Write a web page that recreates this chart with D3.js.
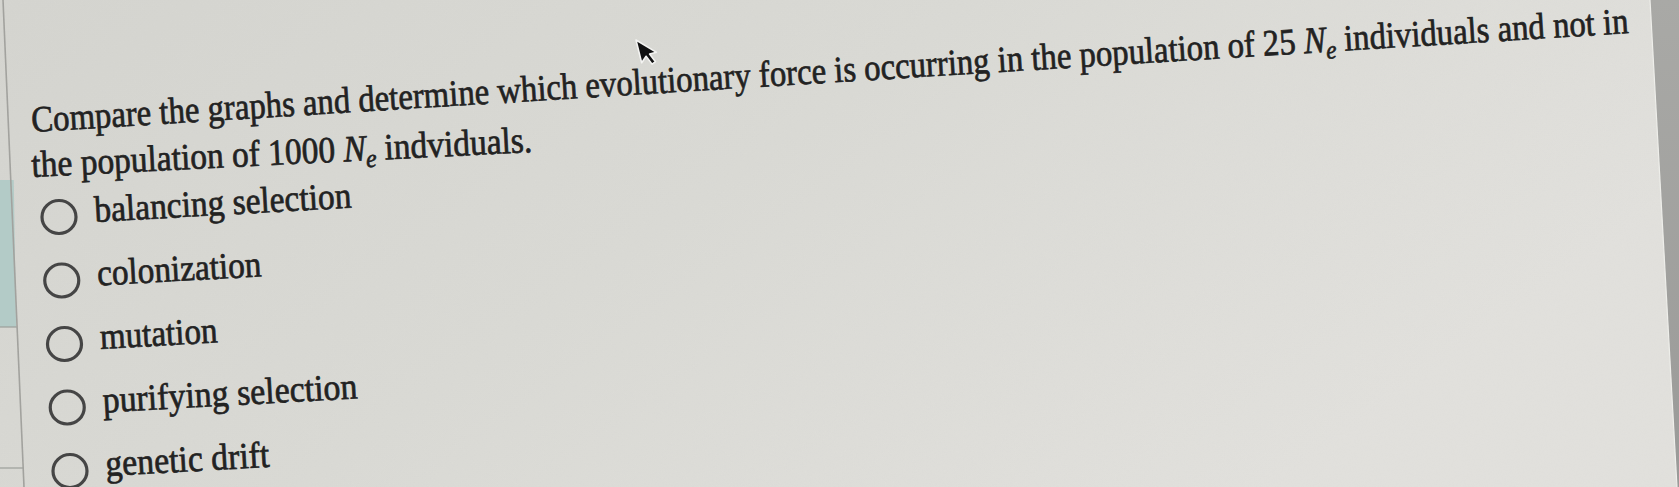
<!DOCTYPE html>
<html>
<head>
<meta charset="utf-8">
<script src="https://cdn.jsdelivr.net/npm/d3@7"></script>
<style>
  html, body { margin: 0; padding: 0; overflow: hidden; background: #dadad5; }
  svg { display: block; }
</style>
</head>
<body>
<div id="page"></div>
<script>
// texte de la question (N en italique, e en indice)
const line1 = [
  { text: "Compare the graphs and determine which evolutionary force is occurring in the population of 25 " },
  { text: "N", kind: "italic" },
  { text: "e", kind: "sub" },
  { text: " individuals and not in" }
];
const line2 = [
  { text: "the population of 1000 " },
  { text: "N", kind: "italic" },
  { text: "e", kind: "sub" },
  { text: " indviduals." }
];

// les choix de réponse
const options = [
  "balancing selection",
  "colonization",
  "mutation",
  "purifying selection",
  "genetic drift"
];

// dimensions
const width = 1679;
const height = 487;
const fontSize = 37;

// début / fin de la ligne de base de chaque ligne de la question (photo un peu penchée)
const lineStart = [[32, 132], [32, 177]];
const lineEnd = [[1630, 33], [533, 152]];

// bord droit du texte de chaque choix
const optionEndX = [352, 262, 218, 358, 270];
const optionSlope = -0.056;

// échelles pour placer les choix
const y = d3.scalePoint().domain(options).range([217, 471]);
const x = d3.scalePoint().domain(options).range([59, 70]);

const svg = d3.select("#page")
  .append("svg")
  .attr("width", width)
  .attr("height", height);

const defs = svg.append("defs");

// fond papier / écran
const grad = defs.append("linearGradient")
  .attr("id", "paper")
  .attr("x1", "0").attr("y1", "0")
  .attr("x2", "1").attr("y2", "0.4");
grad.append("stop").attr("offset", "0").attr("stop-color", "#d5d5d0");
grad.append("stop").attr("offset", "0.5").attr("stop-color", "#dadad5");
grad.append("stop").attr("offset", "1").attr("stop-color", "#e2e1dd");

const bezel = defs.append("linearGradient")
  .attr("id", "bezel")
  .attr("x1", "0").attr("y1", "0")
  .attr("x2", "0").attr("y2", "1");
bezel.append("stop").attr("offset", "0").attr("stop-color", "#a9a9a6");
bezel.append("stop").attr("offset", "1").attr("stop-color", "#9a9a98");

// grain de la photo
const noise = defs.append("filter").attr("id", "grain");
noise.append("feTurbulence")
  .attr("type", "fractalNoise")
  .attr("baseFrequency", "0.9")
  .attr("numOctaves", "2")
  .attr("seed", "3");
noise.append("feColorMatrix")
  .attr("type", "matrix")
  .attr("values", "0 0 0 0 0.5  0 0 0 0 0.5  0 0 0 0 0.5  0 0 0 0.5 0");

svg.append("rect")
  .attr("width", width)
  .attr("height", height)
  .attr("fill", "url(#paper)");

svg.append("rect")
  .attr("width", width)
  .attr("height", height)
  .attr("filter", "url(#grain)")
  .attr("opacity", 0.12);

// bord gauche : filet, bandeau bleu-vert et traits
const edgeX = (yy) => 3 + 21 * yy / height;

svg.append("path")
  .attr("d", `M0,180 L${edgeX(180) + 3},180 L${edgeX(327) - 1},327 L0,327 Z`)
  .attr("fill", "#b3cbc7");

svg.append("line")
  .attr("x1", 0).attr("y1", 327)
  .attr("x2", edgeX(327)).attr("y2", 327)
  .attr("stroke", "#9c9e9a").attr("stroke-width", 1.2);

svg.append("line")
  .attr("x1", 0).attr("y1", 468)
  .attr("x2", edgeX(468)).attr("y2", 468)
  .attr("stroke", "#9c9e9a").attr("stroke-width", 1.2);

svg.append("line")
  .attr("x1", edgeX(0)).attr("y1", 0)
  .attr("x2", edgeX(height)).attr("y2", height)
  .attr("stroke", "#a2a29e").attr("stroke-width", 1.6);

// bord droit de l'écran
svg.append("path")
  .attr("d", `M1650,0 L${width},0 L${width},${height} L1677,${height} Z`)
  .attr("fill", "url(#bezel)");

svg.append("line")
  .attr("x1", 1650).attr("y1", 0)
  .attr("x2", 1677).attr("y2", height)
  .attr("stroke", "#eeeeea").attr("stroke-width", 1.2);

// dessine un texte le long d'une ligne de base penchée
function drawText(parts, x0, y0, x1, y1) {
  const t = svg.append("text")
    .attr("font-family", "'Liberation Serif', 'DejaVu Serif', serif")
    .attr("font-size", fontSize)
    .attr("fill", "#222")
    .attr("stroke", "#222")
    .attr("stroke-width", 0.7);

  let shifted = false;
  parts.forEach((p) => {
    const ts = t.append("tspan").text(p.text);
    if (p.kind == "italic") {
      ts.attr("font-style", "italic");
    }
    if (p.kind == "sub") {
      ts.attr("font-style", "italic")
        .attr("font-size", fontSize * 0.7)
        .attr("dy", 7);
      shifted = true;
    } else if (shifted) {
      ts.attr("dy", -7);
      shifted = false;
    }
  });

  const w = t.node().getComputedTextLength();
  const len = Math.hypot(x1 - x0, y1 - y0);
  const ang = Math.atan2(y1 - y0, x1 - x0) * 180 / Math.PI;
  t.attr("transform", `translate(${x0},${y0}) rotate(${ang}) scale(${len / w},1)`);
  return t;
}

// la question
[line1, line2].forEach((parts, i) => {
  drawText(parts, lineStart[i][0], lineStart[i][1], lineEnd[i][0], lineEnd[i][1]);
});

// les choix : cercle + libellé
options.forEach((d, i) => {
  const cx = x(d);
  const cy = y(d);

  svg.append("ellipse")
    .attr("cx", cx)
    .attr("cy", cy)
    .attr("rx", 17)
    .attr("ry", 16.5)
    .attr("fill", "none")
    .attr("stroke", "#454545")
    .attr("stroke-width", 3.2);

  const x0 = cx + 36;
  const y0 = cy + 5;
  const x1 = optionEndX[i];
  const y1 = y0 + optionSlope * (x1 - x0);
  drawText([{ text: d }], x0, y0, x1, y1);
});

// le curseur de la souris
svg.append("path")
  .attr("d", "M0,0 L0,18 L4.5,14 L7.5,21 L10.5,19.8 L7.5,13 L13,13 Z")
  .attr("transform", "translate(636,40) rotate(-14) scale(1.3)")
  .attr("fill", "#111")
  .attr("stroke", "#f4f4f2")
  .attr("stroke-width", 1.2)
  .attr("stroke-linejoin", "round");
</script>
</body>
</html>
